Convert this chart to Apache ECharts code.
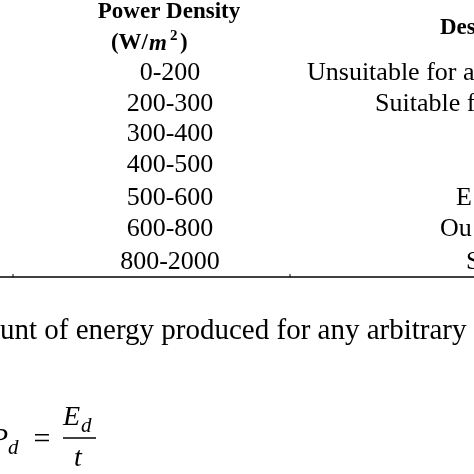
<!DOCTYPE html>
<html>
<head>
<meta charset="utf-8">
<script src="https://cdn.jsdelivr.net/npm/echarts@6/dist/echarts.min.js"></script>
<style>html,body{margin:0;padding:0;background:#fff}#main{width:474px;height:474px}</style>
</head>
<body>
<div id="main"></div>
<script>
// table contents (cropped in the source picture)
var densityRanges = ['0-200', '200-300', '300-400', '400-500', '500-600', '600-800', '800-2000'];
var descriptions = ['Unsuitable for a', 'Suitable f', '', '', 'E', 'Ou', 'S'];
var headerLeft = ['Power Density', '(W/m²)'];
var headerRight = 'Des';
var bodyText = 'unt of energy produced for any arbitrary';

// layout only
var rowY = [73, 104, 134, 165, 198, 229, 262];
var descX = [307, 375, 0, 0, 456, 440, 466];
var serif = '"Liberation Serif", "DejaVu Serif", serif';

var chart = echarts.init(document.getElementById('main'));
var els = [];

els.push({ type: 'text', style: { text: headerLeft[0], x: 169, y: 12, align: 'center', verticalAlign: 'middle', font: 'bold 23px ' + serif, fill: '#000' } });
els.push({ type: 'text', style: { text: '(W/', x: 148, y: 43, align: 'right', verticalAlign: 'middle', font: 'bold 23px ' + serif, fill: '#000' } });
els.push({ type: 'text', style: { text: 'm', x: 149, y: 44, align: 'left', verticalAlign: 'middle', font: 'bold italic 23px ' + serif, fill: '#000' } });
els.push({ type: 'text', style: { text: '2', x: 170, y: 36, align: 'left', verticalAlign: 'middle', font: 'bold 15px ' + serif, fill: '#000' } });
els.push({ type: 'text', style: { text: ')', x: 180, y: 43, align: 'left', verticalAlign: 'middle', font: 'bold 23px ' + serif, fill: '#000' } });
els.push({ type: 'text', style: { text: headerRight, x: 440, y: 28, align: 'left', verticalAlign: 'middle', font: 'bold 23px ' + serif, fill: '#000' } });

densityRanges.forEach(function (r, i) {
  els.push({ type: 'text', style: { text: r, x: 170, y: rowY[i], align: 'center', verticalAlign: 'middle', font: '26px ' + serif, fill: '#000' } });
  if (descriptions[i]) {
    els.push({ type: 'text', style: { text: descriptions[i], x: descX[i], y: rowY[i], align: 'left', verticalAlign: 'middle', font: '26px ' + serif, fill: '#000' } });
  }
});

// bottom rule of the table
els.push({ type: 'line', shape: { x1: 0, y1: 277, x2: 474, y2: 277 }, style: { stroke: '#000', lineWidth: 1.5 } });
els.push({ type: 'line', shape: { x1: 13, y1: 274, x2: 13, y2: 277 }, style: { stroke: '#000', lineWidth: 1 } });
els.push({ type: 'line', shape: { x1: 290, y1: 274, x2: 290, y2: 277 }, style: { stroke: '#000', lineWidth: 1 } });

els.push({ type: 'text', style: { text: bodyText, x: 0, y: 331, align: 'left', verticalAlign: 'middle', font: '29px ' + serif, fill: '#000' } });

// formula P_d = E_d / t
els.push({ type: 'text', style: { text: 'P', x: -9, y: 440, align: 'left', verticalAlign: 'middle', font: 'italic 28px ' + serif, fill: '#000' } });
els.push({ type: 'text', style: { text: 'd', x: 8, y: 448, align: 'left', verticalAlign: 'middle', font: 'italic 21px ' + serif, fill: '#000' } });
els.push({ type: 'text', style: { text: '=', x: 42, y: 440, align: 'center', verticalAlign: 'middle', font: '30px ' + serif, fill: '#000' } });
els.push({ type: 'text', style: { text: 'E', x: 63, y: 418, align: 'left', verticalAlign: 'middle', font: 'italic 28px ' + serif, fill: '#000' } });
els.push({ type: 'text', style: { text: 'd', x: 81, y: 426, align: 'left', verticalAlign: 'middle', font: 'italic 21px ' + serif, fill: '#000' } });
els.push({ type: 'line', shape: { x1: 63, y1: 438, x2: 96, y2: 438 }, style: { stroke: '#000', lineWidth: 1.5 } });
els.push({ type: 'text', style: { text: 't', x: 78, y: 459, align: 'center', verticalAlign: 'middle', font: 'italic 28px ' + serif, fill: '#000' } });

chart.setOption({
  backgroundColor: '#fff',
  animation: false,
  graphic: els
});
</script>
</body>
</html>
